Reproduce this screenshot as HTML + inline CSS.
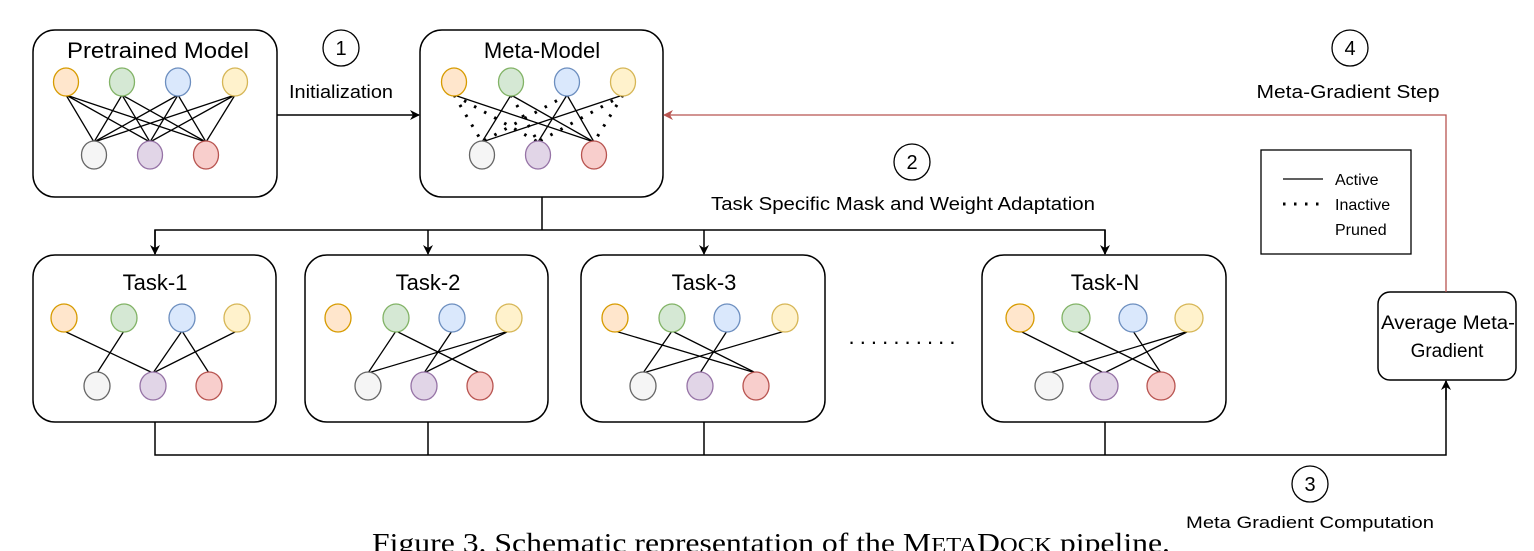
<!DOCTYPE html>
<html><head><meta charset="utf-8"><style>
html,body{margin:0;padding:0;background:#fff;}
svg{display:block;}
text{font-family:"Liberation Sans",sans-serif;fill:#000;}
</style></head><body>
<svg width="1534" height="551" viewBox="0 0 1534 551" xmlns="http://www.w3.org/2000/svg">
<defs>
<marker id="ah" markerWidth="10" markerHeight="10" refX="9" refY="5" orient="auto" markerUnits="userSpaceOnUse"><path d="M0,0 L10,5 L0,10 L3,5 Z" fill="#000"/></marker>
<marker id="ahr" markerWidth="10" markerHeight="10" refX="9" refY="5" orient="auto" markerUnits="userSpaceOnUse"><path d="M0,0 L10,5 L0,10 L3,5 Z" fill="#b85450"/></marker>
</defs>
<g fill="none" stroke="#000" stroke-width="1.5">
<rect x="33" y="30" width="244" height="167" rx="22"/>
<rect x="420" y="30" width="243" height="167" rx="22"/>
<rect x="33" y="255" width="243" height="167" rx="22"/>
<rect x="305" y="255" width="243" height="167" rx="22"/>
<rect x="581" y="255" width="244" height="167" rx="22"/>
<rect x="982" y="255" width="244" height="167" rx="22"/>
<rect x="1378" y="292" width="138" height="88" rx="12"/>
<rect x="1261" y="150" width="150" height="104" stroke-width="1.3"/>
<line x1="1283" y1="179" x2="1323" y2="179" stroke-width="1.2"/>
<line x1="1283" y1="204" x2="1323" y2="204" stroke-width="3" stroke-dasharray="2.5,8.5"/>
<circle cx="341" cy="48" r="18" stroke-width="1.3"/>
<circle cx="1350" cy="48" r="18" stroke-width="1.3"/>
<circle cx="912" cy="162" r="18" stroke-width="1.3"/>
<circle cx="1310" cy="484" r="18" stroke-width="1.3"/>
<line x1="277" y1="115" x2="419" y2="115" marker-end="url(#ah)"/>
<path d="M542,197 V230"/>
<path d="M155,254 V230 H1105 V254"/>
<line x1="155" y1="230" x2="155" y2="254" marker-end="url(#ah)"/>
<line x1="428" y1="230" x2="428" y2="254" marker-end="url(#ah)"/>
<line x1="704" y1="230" x2="704" y2="254" marker-end="url(#ah)"/>
<line x1="1105" y1="230" x2="1105" y2="254" marker-end="url(#ah)"/>
<path d="M155,422 V455 H1446 V381"/>
<path d="M428,422 V455 M704,422 V455 M1105,422 V455"/>
<line x1="1446" y1="400" x2="1446" y2="381" marker-end="url(#ah)"/>
<path d="M1446,292 V115 H664" stroke="#b85450" stroke-width="1.3" marker-end="url(#ahr)"/>
</g>
<g stroke="#000" stroke-width="1.3">
<line x1="66" y1="95" x2="94" y2="142"/><line x1="66" y1="95" x2="150" y2="142"/><line x1="66" y1="95" x2="206" y2="142"/>
<line x1="122" y1="95" x2="94" y2="142"/><line x1="122" y1="95" x2="150" y2="142"/><line x1="122" y1="95" x2="206" y2="142"/>
<line x1="178" y1="95" x2="94" y2="142"/><line x1="178" y1="95" x2="150" y2="142"/><line x1="178" y1="95" x2="206" y2="142"/>
<line x1="235" y1="95" x2="94" y2="142"/><line x1="235" y1="95" x2="150" y2="142"/><line x1="235" y1="95" x2="206" y2="142"/>
<line x1="454" y1="95" x2="594" y2="142"/><line x1="511" y1="95" x2="482" y2="142"/><line x1="511" y1="95" x2="594" y2="142"/>
<line x1="567" y1="95" x2="538" y2="142"/><line x1="567" y1="95" x2="594" y2="142"/><line x1="623" y1="95" x2="482" y2="142"/>
<line x1="64" y1="331" x2="153" y2="373"/><line x1="124" y1="331" x2="97" y2="373"/><line x1="182" y1="331" x2="153" y2="373"/><line x1="182" y1="331" x2="209" y2="373"/><line x1="237" y1="331" x2="153" y2="373"/>
<line x1="396" y1="331" x2="368" y2="373"/><line x1="396" y1="331" x2="480" y2="373"/><line x1="452" y1="331" x2="424" y2="373"/><line x1="509" y1="331" x2="368" y2="373"/><line x1="509" y1="331" x2="424" y2="373"/>
<line x1="615" y1="331" x2="756" y2="373"/><line x1="672" y1="331" x2="643" y2="373"/><line x1="672" y1="331" x2="756" y2="373"/><line x1="727" y1="331" x2="700" y2="373"/><line x1="785" y1="331" x2="643" y2="373"/>
<line x1="1020" y1="331" x2="1104" y2="373"/><line x1="1076" y1="331" x2="1161" y2="373"/><line x1="1133" y1="331" x2="1161" y2="373"/><line x1="1189" y1="331" x2="1049" y2="373"/><line x1="1189" y1="331" x2="1104" y2="373"/>
</g>
<g stroke="#000" stroke-width="3" stroke-dasharray="2.5,9">
<line x1="454" y1="95" x2="482" y2="142"/><line x1="454" y1="95" x2="538" y2="142"/>
<line x1="511" y1="95" x2="538" y2="142"/><line x1="567" y1="95" x2="482" y2="142"/>
<line x1="623" y1="95" x2="594" y2="142"/><line x1="623" y1="95" x2="538" y2="142"/>
</g>
<g stroke-width="1.3">
<ellipse cx="66" cy="82" rx="12.5" ry="14" fill="#ffe6cc" stroke="#d79b00"/>
<ellipse cx="122" cy="82" rx="12.5" ry="14" fill="#d5e8d4" stroke="#82b366"/>
<ellipse cx="178" cy="82" rx="12.5" ry="14" fill="#dae8fc" stroke="#6c8ebf"/>
<ellipse cx="235" cy="82" rx="12.5" ry="14" fill="#fff2cc" stroke="#d6b656"/>
<ellipse cx="94" cy="155" rx="12.5" ry="14" fill="#f5f5f5" stroke="#666"/>
<ellipse cx="150" cy="155" rx="12.5" ry="14" fill="#e1d5e7" stroke="#9673a6"/>
<ellipse cx="206" cy="155" rx="12.5" ry="14" fill="#f8cecc" stroke="#b85450"/>
<ellipse cx="454" cy="82" rx="12.5" ry="14" fill="#ffe6cc" stroke="#d79b00"/>
<ellipse cx="511" cy="82" rx="12.5" ry="14" fill="#d5e8d4" stroke="#82b366"/>
<ellipse cx="567" cy="82" rx="12.5" ry="14" fill="#dae8fc" stroke="#6c8ebf"/>
<ellipse cx="623" cy="82" rx="12.5" ry="14" fill="#fff2cc" stroke="#d6b656"/>
<ellipse cx="482" cy="155" rx="12.5" ry="14" fill="#f5f5f5" stroke="#666"/>
<ellipse cx="538" cy="155" rx="12.5" ry="14" fill="#e1d5e7" stroke="#9673a6"/>
<ellipse cx="594" cy="155" rx="12.5" ry="14" fill="#f8cecc" stroke="#b85450"/>
<ellipse cx="64" cy="318" rx="13" ry="14" fill="#ffe6cc" stroke="#d79b00"/>
<ellipse cx="124" cy="318" rx="13" ry="14" fill="#d5e8d4" stroke="#82b366"/>
<ellipse cx="182" cy="318" rx="13" ry="14" fill="#dae8fc" stroke="#6c8ebf"/>
<ellipse cx="237" cy="318" rx="13" ry="14" fill="#fff2cc" stroke="#d6b656"/>
<ellipse cx="97" cy="386" rx="13" ry="14" fill="#f5f5f5" stroke="#666"/>
<ellipse cx="153" cy="386" rx="13" ry="14" fill="#e1d5e7" stroke="#9673a6"/>
<ellipse cx="209" cy="386" rx="13" ry="14" fill="#f8cecc" stroke="#b85450"/>
<ellipse cx="338" cy="318" rx="13" ry="14" fill="#ffe6cc" stroke="#d79b00"/>
<ellipse cx="396" cy="318" rx="13" ry="14" fill="#d5e8d4" stroke="#82b366"/>
<ellipse cx="452" cy="318" rx="13" ry="14" fill="#dae8fc" stroke="#6c8ebf"/>
<ellipse cx="509" cy="318" rx="13" ry="14" fill="#fff2cc" stroke="#d6b656"/>
<ellipse cx="368" cy="386" rx="13" ry="14" fill="#f5f5f5" stroke="#666"/>
<ellipse cx="424" cy="386" rx="13" ry="14" fill="#e1d5e7" stroke="#9673a6"/>
<ellipse cx="480" cy="386" rx="13" ry="14" fill="#f8cecc" stroke="#b85450"/>
<ellipse cx="615" cy="318" rx="13" ry="14" fill="#ffe6cc" stroke="#d79b00"/>
<ellipse cx="672" cy="318" rx="13" ry="14" fill="#d5e8d4" stroke="#82b366"/>
<ellipse cx="727" cy="318" rx="13" ry="14" fill="#dae8fc" stroke="#6c8ebf"/>
<ellipse cx="785" cy="318" rx="13" ry="14" fill="#fff2cc" stroke="#d6b656"/>
<ellipse cx="643" cy="386" rx="13" ry="14" fill="#f5f5f5" stroke="#666"/>
<ellipse cx="700" cy="386" rx="13" ry="14" fill="#e1d5e7" stroke="#9673a6"/>
<ellipse cx="756" cy="386" rx="13" ry="14" fill="#f8cecc" stroke="#b85450"/>
<ellipse cx="1020" cy="318" rx="14" ry="14" fill="#ffe6cc" stroke="#d79b00"/>
<ellipse cx="1076" cy="318" rx="14" ry="14" fill="#d5e8d4" stroke="#82b366"/>
<ellipse cx="1133" cy="318" rx="14" ry="14" fill="#dae8fc" stroke="#6c8ebf"/>
<ellipse cx="1189" cy="318" rx="14" ry="14" fill="#fff2cc" stroke="#d6b656"/>
<ellipse cx="1049" cy="386" rx="14" ry="14" fill="#f5f5f5" stroke="#666"/>
<ellipse cx="1104" cy="386" rx="14" ry="14" fill="#e1d5e7" stroke="#9673a6"/>
<ellipse cx="1161" cy="386" rx="14" ry="14" fill="#f8cecc" stroke="#b85450"/>
</g>
<g text-anchor="middle">
<text x="158" y="58" font-size="22" textLength="182" lengthAdjust="spacingAndGlyphs">Pretrained Model</text>
<text x="542" y="58" font-size="22">Meta-Model</text>
<text x="155" y="290" font-size="22">Task-1</text>
<text x="428" y="290" font-size="22">Task-2</text>
<text x="704" y="290" font-size="22">Task-3</text>
<text x="1105" y="290" font-size="22">Task-N</text>
<text x="341" y="55" font-size="20">1</text>
<text x="1350" y="55" font-size="20">4</text>
<text x="912" y="169" font-size="20">2</text>
<text x="1310" y="491" font-size="20">3</text>
<text x="341" y="98" font-size="18" textLength="104" lengthAdjust="spacingAndGlyphs">Initialization</text>
<text x="1348" y="98" font-size="18" textLength="183" lengthAdjust="spacingAndGlyphs">Meta-Gradient Step</text>
<text x="903" y="210" font-size="18" textLength="384" lengthAdjust="spacingAndGlyphs">Task Specific Mask and Weight Adaptation</text>
<text x="1310" y="528" font-size="17" textLength="248" lengthAdjust="spacingAndGlyphs">Meta Gradient Computation</text>
<text x="1448" y="329" font-size="19" textLength="134" lengthAdjust="spacingAndGlyphs">Average Meta-</text>
<text x="1447" y="357" font-size="19">Gradient</text>
<text x="902" y="344" font-size="22" textLength="107" lengthAdjust="spacing">..........</text>
</g>
<text x="1335" y="185" font-size="16">Active</text>
<text x="1335" y="210" font-size="16">Inactive</text>
<text x="1335" y="235" font-size="16">Pruned</text>
<text x="372" y="552" font-size="27" textLength="798" lengthAdjust="spacingAndGlyphs" style="font-family:'Liberation Serif',serif">Figure 3. Schematic representation of the M<tspan font-size="21">ETA</tspan>D<tspan font-size="21">OCK</tspan> pipeline.</text>
</svg>
</body></html>
